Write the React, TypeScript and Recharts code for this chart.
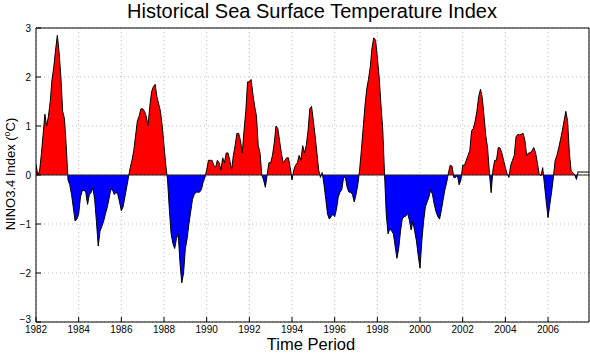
import React from "react";
import {
  AreaChart,
  Area,
  XAxis,
  YAxis,
  CartesianGrid,
  ReferenceLine,
} from "recharts";

// monthly NINO3.4 anomaly, one row per year starting Jan 1982
const startYear = 1982;
const nino34ByYear: number[][] = [
  [0.22, 0.0, 0.08, 0.42, 0.83, 1.24, 1.0, 1.2, 1.5, 1.95, 2.2, 2.55], // 1982
  [2.85, 2.5, 2.0, 1.3, 1.15, 0.6, -0.1, -0.2, -0.4, -0.67, -0.94, -0.9], // 1983
  [-0.8, -0.45, -0.32, -0.31, -0.35, -0.6, -0.4, -0.36, -0.26, -0.5, -0.95, -1.45], // 1984
  [-1.15, -1.05, -0.95, -0.8, -0.67, -0.5, -0.3, -0.3, -0.4, -0.35, -0.4, -0.55], // 1985
  [-0.73, -0.65, -0.45, -0.25, -0.05, 0.15, 0.3, 0.5, 0.8, 1.1, 1.2, 1.35], // 1986
  [1.35, 1.3, 1.2, 1.0, 1.4, 1.7, 1.8, 1.85, 1.6, 1.45, 1.3, 1.0], // 1987
  [0.6, 0.2, -0.1, -0.7, -1.2, -1.4, -1.5, -1.3, -1.2, -1.8, -2.2, -2.0], // 1988
  [-1.5, -1.3, -1.0, -0.75, -0.5, -0.4, -0.35, -0.35, -0.35, -0.3, -0.15, -0.05], // 1989
  [0.1, 0.3, 0.3, 0.3, 0.2, 0.15, 0.3, 0.25, 0.1, 0.35, 0.25, 0.45], // 1990
  [0.45, 0.3, 0.1, 0.4, 0.6, 0.85, 0.85, 0.7, 0.45, 0.9, 1.3, 1.9], // 1991
  [1.9, 1.95, 1.65, 1.4, 1.2, 0.6, 0.45, 0.0, -0.1, -0.25, 0.0, 0.25], // 1992
  [0.25, 0.4, 0.65, 1.0, 0.95, 0.7, 0.45, 0.25, 0.3, 0.35, 0.35, 0.15], // 1993
  [-0.1, 0.1, 0.2, 0.25, 0.4, 0.3, 0.6, 0.45, 0.6, 0.9, 1.35, 1.4], // 1994
  [1.1, 0.8, 0.45, 0.1, -0.05, 0.05, -0.2, -0.5, -0.8, -0.9, -0.85, -0.8], // 1995
  [-0.85, -0.7, -0.45, -0.35, -0.3, -0.05, -0.05, -0.25, -0.35, -0.35, -0.4, -0.55], // 1996
  [-0.4, -0.2, 0.1, 0.5, 0.95, 1.4, 1.75, 1.95, 2.2, 2.6, 2.8, 2.75], // 1997
  [2.4, 2.0, 1.45, 0.95, 0.05, -0.8, -1.2, -1.1, -1.14, -1.2, -1.45, -1.7], // 1998
  [-1.5, -1.15, -0.9, -0.85, -0.84, -0.78, -0.92, -1.12, -0.95, -1.15, -1.35, -1.65], // 1999
  [-1.9, -1.35, -0.95, -0.65, -0.55, -0.45, -0.3, -0.4, -0.6, -0.75, -0.85, -0.9], // 2000
  [-0.72, -0.5, -0.3, -0.15, 0.05, 0.2, 0.18, -0.05, -0.05, 0.0, -0.2, -0.1], // 2001
  [0.2, 0.2, 0.3, 0.4, 0.5, 0.9, 0.95, 1.1, 1.3, 1.6, 1.75, 1.58], // 2002
  [1.2, 0.8, 0.55, 0.05, -0.36, 0.1, 0.3, 0.3, 0.56, 0.55, 0.45, 0.3], // 2003
  [0.15, 0.02, -0.05, 0.2, 0.3, 0.4, 0.78, 0.83, 0.82, 0.83, 0.85, 0.7], // 2004
  [0.4, 0.45, 0.45, 0.5, 0.56, 0.45, 0.25, 0.02, -0.02, 0.15, -0.2, -0.55], // 2005
  [-0.87, -0.6, -0.35, -0.05, 0.3, 0.4, 0.55, 0.72, 0.9, 1.1, 1.3, 1.1], // 2006
  [0.45, 0.08, 0.05, 0.0, -0.09, 0.08], // 2007 (to June)
];

const yearTicks = [1982, 1984, 1986, 1988, 1990, 1992, 1994, 1996, 1998, 2000, 2002, 2004, 2006];
const indexTicks = [-3, -2, -1, 0, 1, 2, 3];
const xDomain = [1982, 2007.92];

const data = nino34ByYear.flat().map((v, i) => ({ t: startYear + i / 12, v }));

const vals = data.map((d) => d.v);
const maxV = Math.max(...vals);
const minV = Math.min(...vals);
const split = maxV / (maxV - minV);

const font = "'Liberation Sans', Arial, Helvetica, sans-serif";
const tickStyle = { fill: "#000", fontSize: 10, fontFamily: font };

// left axis label; the bottom one is nudged up a little so it clears "1982"
function IndexTick(props: any) {
  const { x, y, payload } = props;
  const v = payload.value as number;
  const label = v < 0 ? "\u2212" + Math.abs(v) : String(v);
  const shift = v === -3 ? -3 : 0;
  return (
    <text x={x} y={y + shift} dy="0.35em" textAnchor="end" {...tickStyle}>
      {label}
    </text>
  );
}

export default function App() {
  return (
    <div style={{ position: "absolute", left: 0, top: 0, width: 590, height: 353, background: "#fff" }}>
      <AreaChart
        width={590}
        height={353}
        data={data}
        margin={{ top: 27, right: 0, bottom: 0, left: 0 }}
      >
        <defs>
          <linearGradient id="ninoFill" x1="0" y1="0" x2="0" y2="1">
            <stop offset={split} stopColor="#ff0000" />
            <stop offset={split} stopColor="#0000ff" />
          </linearGradient>
        </defs>
        <CartesianGrid stroke="#bdbdbd" strokeDasharray="1 3" />
        <XAxis
          dataKey="t"
          type="number"
          domain={xDomain}
          ticks={yearTicks}
          allowDataOverflow
          height={31}
          stroke="#000"
          tickSize={-5}
          tickMargin={8.5}
          tick={tickStyle}
          interval={0}
        />
        <XAxis
          xAxisId="top"
          dataKey="t"
          type="number"
          orientation="top"
          domain={xDomain}
          ticks={yearTicks}
          allowDataOverflow
          height={1}
          stroke="#000"
          tickSize={-5}
          tick={false}
          interval={0}
        />
        <YAxis
          domain={[-3, 3]}
          ticks={indexTicks}
          width={36}
          stroke="#000"
          tickSize={-5}
          tickMargin={10}
          tick={<IndexTick />}
          interval={0}
        />
        <YAxis
          yAxisId="right"
          orientation="right"
          domain={[-3, 3]}
          ticks={indexTicks}
          width={1}
          stroke="#000"
          tickSize={-5}
          tick={false}
          interval={0}
        />
        <Area
          type="linear"
          dataKey="v"
          baseValue={0}
          stroke="#000"
          strokeWidth={1}
          fill="url(#ninoFill)"
          fillOpacity={1}
          dot={false}
          activeDot={false}
          isAnimationActive={false}
        />
        <ReferenceLine y={0} stroke="#222" strokeWidth={1} />
        <ReferenceLine
          segment={[
            { x: 2007.45, y: 0.06 },
            { x: 2007.92, y: 0.06 },
          ]}
          stroke="#000"
          ifOverflow="visible"
        />
      </AreaChart>
      <svg
        width={590}
        height={353}
        style={{ position: "absolute", left: 0, top: 0, pointerEvents: "none" }}
      >
        <text x={312} y={18} textAnchor="middle" fontSize={20} fontFamily={font} fill="#000">
          Historical Sea Surface Temperature Index
        </text>
        <text x={311} y={349.6} textAnchor="middle" fontSize={16.5} fontFamily={font} fill="#000">
          Time Period
        </text>
        <text
          x={15}
          y={174}
          transform="rotate(-90 15 174)"
          textAnchor="middle"
          fontSize={13}
          fontFamily={font}
          fill="#000"
        >
          NINO3.4 Index (
          <tspan fontSize={9} dy={-5}>o</tspan>
          <tspan dy={5}>C)</tspan>
        </text>
      </svg>
    </div>
  );
}
